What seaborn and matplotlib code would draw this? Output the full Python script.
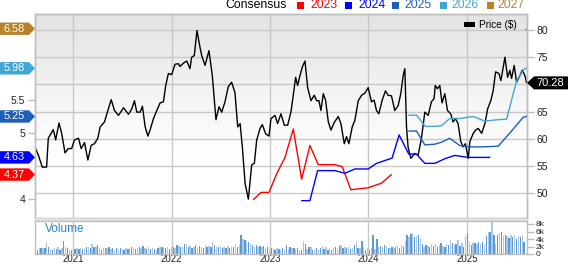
import numpy as np
import pandas as pd
import matplotlib
matplotlib.use("Agg")
import matplotlib.pyplot as plt
import seaborn as sns
from matplotlib.patches import Polygon, Rectangle
from matplotlib.colors import LinearSegmentedColormap
import matplotlib.transforms as mtrans

# ---------------- data ----------------
price_t = [2020.614, 2020.648, 2020.688, 2020.732, 2020.749, 2020.800, 2020.824, 2020.858, 2020.885, 2020.919,
           2020.952, 2020.986, 2021.013, 2021.054, 2021.081, 2021.115, 2021.149, 2021.183, 2021.216, 2021.250,
           2021.274, 2021.318, 2021.352, 2021.386, 2021.419, 2021.460, 2021.511, 2021.562, 2021.595, 2021.622,
           2021.646, 2021.680, 2021.703, 2021.731, 2021.758, 2021.781, 2021.815, 2021.849, 2021.883, 2021.917,
           2021.940, 2021.967, 2022.001, 2022.035, 2022.069, 2022.086, 2022.120, 2022.154, 2022.187, 2022.204,
           2022.231, 2022.258, 2022.289, 2022.306, 2022.340, 2022.380, 2022.414, 2022.451, 2022.482, 2022.509,
           2022.543, 2022.576, 2022.610, 2022.644,
           2022.672, 2022.696, 2022.719, 2022.747, 2022.780, 2022.814, 2022.841, 2022.865, 2022.899, 2022.922,
           2022.956, 2022.990, 2023.010, 2023.051, 2023.078, 2023.112, 2023.146, 2023.180, 2023.214, 2023.237,
           2023.261, 2023.281, 2023.305, 2023.329, 2023.356, 2023.383, 2023.417, 2023.450, 2023.474, 2023.498,
           2023.518, 2023.542, 2023.565, 2023.593, 2023.620, 2023.653,
           2023.694, 2023.721, 2023.755, 2023.778, 2023.802, 2023.836, 2023.863, 2023.897, 2023.931, 2023.965,
           2023.998, 2024.032, 2024.059, 2024.083, 2024.107, 2024.141, 2024.174, 2024.201, 2024.235, 2024.269,
           2024.303, 2024.330, 2024.354, 2024.371, 2024.388, 2024.404, 2024.432, 2024.472, 2024.506, 2024.540,
           2024.574, 2024.608, 2024.641, 2024.668,
           2024.680, 2024.702, 2024.726, 2024.749, 2024.777, 2024.804, 2024.837, 2024.861, 2024.885, 2024.912,
           2024.939, 2024.963, 2024.986, 2025.013, 2025.030, 2025.064, 2025.088, 2025.115, 2025.149, 2025.183,
           2025.210, 2025.244, 2025.267, 2025.291, 2025.325, 2025.345, 2025.386, 2025.413, 2025.436, 2025.453,
           2025.480, 2025.504, 2025.538, 2025.562, 2025.589, 2025.605]
price_v = [58.5, 57.0, 54.8, 54.8, 60.1, 61.7, 59.8, 62.9, 61.0, 57.4,
           58.2, 58.2, 59.8, 60.1, 58.2, 59.3, 56.1, 58.8, 59.1, 60.1,
           62.2, 63.1, 65.2, 67.2, 65.2, 64.3, 65.7, 64.5, 65.5, 67.0,
           64.9, 64.9, 66.0, 62.2, 60.5, 61.6, 63.7, 65.2, 66.6, 66.8,
           69.8, 72.0, 71.8, 73.7, 73.8, 73.3, 73.9, 74.3, 72.9, 75.0,
           75.3, 79.9, 76.8, 75.3, 73.5, 76.2, 71.6, 63.5, 65.9, 64.9,
           66.8, 69.6, 70.4, 68.5,
           62.2, 62.8, 58.5, 51.8, 48.9, 55.2, 55.5, 59.8, 61.9, 62.6,
           60.9, 60.5, 63.7, 64.3, 62.8, 64.6, 62.5, 62.5, 65.0, 68.0,
           71.3, 69.8, 71.6, 73.2, 74.3, 69.4, 67.0, 68.0, 67.0, 67.0,
           65.2, 68.3, 67.1, 63.1, 61.6, 63.0,
           64.1, 62.8, 59.1, 60.4, 59.1, 62.2, 63.4, 67.0, 68.0, 68.4,
           69.4, 66.8, 67.1, 65.2, 64.6, 67.1, 68.8, 68.0, 67.9, 65.2,
           66.1, 68.3, 71.6, 72.9, 62.2, 58.5, 56.4, 57.3, 57.0, 60.1,
           64.9, 64.3, 66.8, 67.4,
           69.8, 69.2, 69.8, 66.6, 68.3, 65.2, 64.6, 63.1, 63.7, 62.8,
           59.5, 58.5, 59.1, 56.4, 59.5, 61.0, 61.6, 61.9, 61.0, 62.8,
           65.5, 67.1, 68.9, 72.3, 72.0, 70.7, 75.0, 71.3, 72.6, 71.1,
           73.5, 70.4, 71.6, 72.6, 71.6, 70.3]
last_price = 70.28

c2023_t = [2022.831, 2022.909, 2022.990, 2023.068, 2023.153, 2023.237, 2023.322, 2023.406, 2023.491,
           2023.660, 2023.734, 2023.822, 2023.998, 2024.134, 2024.235]
c2023_v = [3.99, 4.10, 4.10, 4.38, 4.63, 5.06, 4.30, 4.81, 4.52, 4.52, 4.49, 4.14, 4.17, 4.24, 4.37]
c2024_t = [2023.322, 2023.406, 2023.484, 2023.660, 2023.762, 2023.863, 2023.998, 2024.083, 2024.242,
           2024.313, 2024.411, 2024.489, 2024.574, 2024.675, 2024.777, 2024.878, 2025.013, 2025.233]
c2024_v = [3.975, 3.975, 4.43, 4.43, 4.39, 4.455, 4.455, 4.54, 4.62, 4.97, 4.68, 4.68, 4.54, 4.54,
           4.61, 4.66, 4.63, 4.63]
c2025_t = [2024.411, 2024.489, 2024.574, 2024.675, 2024.743, 2024.827, 2024.929, 2025.047, 2025.166,
           2025.318, 2025.453, 2025.572, 2025.605]
c2025_v = [5.03, 5.03, 4.82, 4.83, 4.86, 4.92, 4.81, 4.79, 4.79, 4.80, 5.03, 5.24, 5.25]
c2026_t = [2024.411, 2024.489, 2024.580, 2024.675, 2024.743, 2024.827, 2024.929, 2025.064, 2025.183,
           2025.301, 2025.403, 2025.504, 2025.582, 2025.605]
c2026_v = [5.27, 5.27, 5.10, 5.10, 5.11, 5.22, 5.22, 5.25, 5.18, 5.20, 5.21, 5.79, 5.97, 5.98]
c2027_t = [2025.585, 2025.605]
c2027_v = [6.58, 6.58]

series_names = ["2023", "2024", "2025", "2026", "2027"]
series_colors = ["#ff0000", "#0000ff", "#1f5fb8", "#3fa7d6", "#b8812c"]
consensus_last = [4.37, 4.63, 5.25, 5.98, 6.58]

vol_2020 = [1.4, 1.2, 1.6, 1.5, 1.7, 1.5, 3.2, 1.8, 1.3, 1.0, 1.5, 1.4, 1.8, 1.2, 1.6, 3.4, 2.0, 1.5, 1.0, 1.2]
vol_2021 = [1.5, 1.3, 1.6, 1.4, 1.7, 1.3, 1.5, 1.8, 2.0, 1.6, 2.7, 2.0, 1.8, 2.5, 1.6, 1.2, 1.5, 1.7, 1.6, 1.8,
            1.4, 1.5, 1.2, 1.6, 1.3, 1.7, 1.4, 1.2, 1.5, 1.3, 1.6, 1.8, 1.5, 1.3, 1.6, 1.9, 1.7, 2.2, 1.5, 1.4,
            1.8, 1.3, 1.6, 1.4, 1.2, 1.5, 1.8, 2.0, 1.6, 1.7, 2.0, 1.4]
vol_2022 = [1.8, 2.0, 1.7, 2.3, 2.2, 1.9, 2.0, 2.7, 2.6, 1.8, 2.1, 1.6, 1.9, 2.3, 1.8, 2.2, 2.0, 1.7, 2.4, 1.9,
            2.2, 2.0, 3.2, 2.4, 2.0, 1.8, 2.1, 1.6, 1.9, 1.7, 2.2, 1.5, 2.0, 1.8, 2.6, 1.9, 2.3, 5.0, 3.9, 3.8,
            3.4, 3.2, 2.8, 2.5, 1.9, 2.3, 2.0, 2.2, 1.8, 2.1, 1.6, 2.0]
vol_2023 = [1.3, 1.6, 1.4, 1.2, 1.5, 1.3, 1.1, 1.6, 1.4, 2.5, 1.3, 1.8, 1.6, 1.5, 1.3, 1.6, 1.2, 1.1, 3.5, 2.7,
            1.4, 1.8, 1.9, 1.2, 1.0, 1.5, 1.3, 1.7, 2.2, 1.4, 1.8, 1.2, 1.5, 1.1, 1.6, 1.9, 1.4, 2.1, 2.3, 1.6,
            1.8, 1.5, 2.0, 1.3, 1.7, 2.4, 3.4, 1.6, 1.5, 3.4, 1.8, 1.2]
vol_2024 = [1.6, 1.2, 1.5, 5.0, 1.4, 4.1, 2.0, 2.2, 1.9, 2.3, 2.1, 1.7, 1.5, 1.8, 1.6, 1.9, 2.2, 1.7, 2.3, 2.0,
            3.6, 5.0, 4.6, 5.3, 5.6, 4.5, 4.9, 5.0, 4.3, 2.6, 2.0, 2.4, 2.2, 1.9, 2.6, 2.1, 2.8, 2.0, 2.4, 2.9,
            2.2, 1.8, 2.6, 2.3, 3.8, 3.0, 2.4, 2.7, 3.8, 2.1, 2.9, 1.8]
vol_2025 = [4.9, 5.6, 3.2, 2.5, 2.9, 3.0, 2.6, 3.1, 2.8, 3.2, 2.4, 4.7, 6.0, 5.8, 8.7, 5.0, 2.8, 5.2, 5.5, 6.0,
            4.8, 5.1, 4.9, 4.4, 5.0, 4.6, 5.2, 4.0, 4.9, 4.6, 5.0, 3.2]
volume = vol_2020 + vol_2021 + vol_2022 + vol_2023 + vol_2024 + vol_2025

years = [2021, 2022, 2023, 2024, 2025]
price_ticks = [50, 55, 60, 65, 70, 75, 80]
eps_ticks = [4, 5, 5.5]
vol_ticks = [0, 2, 4, 6, 8]
vol_labels = ["0", "2k", "4k", "6k", "8k"]


def to_date(v):
    y = int(v)
    return pd.Timestamp(year=y, month=1, day=1) + pd.Timedelta(days=(v - y) * 365.25)


# ---------------- figure ----------------
sns.set_style("white")
plt.rcParams['font.family'] = ['Liberation Sans', 'DejaVu Sans']

W, H = 568, 264
fig = plt.figure(figsize=(W / 100, H / 100), dpi=100)


def rect(x0, y0, x1, y1):
    return [x0 / W, 1 - y1 / H, (x1 - x0) / W, (y1 - y0) / H]


GRID = "#c8c8c8"
SPINE = "#bdbdbd"

ax_bg = fig.add_axes(rect(35, 14, 527, 218), zorder=-1)
cmap = LinearSegmentedColormap.from_list("g", [(0, "#e3e3e3"), (0.45, "#f6f6f6"), (0.7, "#ffffff"), (1, "#ffffff")])
ax_bg.imshow(np.linspace(0, 1, 256).reshape(-1, 1), cmap=cmap, aspect="auto", extent=(0, 1, 0, 1))
ax_bg.axis("off")

ax_p = fig.add_axes(rect(35, 14, 527, 218))
ax_p.patch.set_visible(False)
ax_e = ax_p.twinx()
ax_v = fig.add_axes(rect(35, 221, 527, 254))

xmin, xmax = to_date(2020.614), to_date(2025.61)

# price line
df_p = pd.DataFrame({"date": [to_date(t) for t in price_t], "price": price_v})
sns.lineplot(data=df_p, x="date", y="price", ax=ax_p, color="black", lw=1.0, estimator=None, legend=False)

# consensus lines
for name, col, tt, vv in zip(series_names, series_colors,
                             [c2023_t, c2024_t, c2025_t, c2026_t, c2027_t],
                             [c2023_v, c2024_v, c2025_v, c2026_v, c2027_v]):
    d = pd.DataFrame({"date": [to_date(t) for t in tt], "eps": vv})
    sns.lineplot(data=d, x="date", y="eps", ax=ax_e, color=col, lw=1.0, estimator=None, legend=False)

# volume bars
vol_dates = pd.date_range("2020-08-14", periods=len(volume), freq="7D")
bar_colors = ["#a9c8e8" if i % 2 == 0 else "#5b9bd5" for i in range(len(volume))]
ax_v.bar(vol_dates, volume, width=5, color=bar_colors, linewidth=0)

# limits
for a in (ax_p, ax_e, ax_v):
    a.set_xlim(xmin, xmax)
ax_p.set_ylim(45.44, 82.94)
ax_e.set_ylim(3.712, 6.803)
ax_v.set_ylim(0, 8.8)

year_ticks = [pd.Timestamp(year=y, month=1, day=1) for y in years]
for a in (ax_p, ax_e, ax_v):
    a.set_xticks(year_ticks)
    a.set_xlabel("")
    a.set_ylabel("")
ax_v.set_xticklabels([str(y) for y in years])
ax_p.tick_params(axis="x", labelbottom=False, length=0)
ax_e.tick_params(axis="x", labelbottom=False, length=0)
ax_v.tick_params(axis="x", length=0, pad=0.3, labelsize=7, colors="#222222")

# price axis (right); the 70 label sits under the last-price box
ax_p.yaxis.tick_right()
ax_p.set_yticks(price_ticks)
ax_p.set_yticklabels(["" if v == 70 else str(v) for v in price_ticks])
ax_p.tick_params(axis="y", right=True, left=False, labelright=True, labelleft=False,
                 length=5, width=1, color=SPINE, labelsize=7.5, pad=2, labelcolor="#222222")
ax_p.grid(True, color=GRID, lw=1)

# eps axis (left)
ax_e.yaxis.tick_left()
ax_e.set_yticks(eps_ticks)
ax_e.set_yticklabels(["4", "5", "5.5"])
ax_e.tick_params(axis="y", left=True, right=False, labelleft=True, labelright=False,
                 length=5, width=1, color=SPINE, labelsize=7.5, pad=2, labelcolor="#222222")
ax_e.grid(False)

# volume axis
ax_v.yaxis.tick_right()
ax_v.set_yticks(vol_ticks)
ax_v.set_yticklabels(vol_labels)
ax_v.tick_params(axis="y", right=True, left=False, labelright=True, labelleft=False,
                 length=5, width=1, color=SPINE, labelsize=6, pad=1, labelcolor="#222222")
ax_v.grid(True, axis="x", color=GRID, lw=1)
ax_v.grid(False, axis="y")
ax_v.set_facecolor("white")

for a in (ax_p, ax_e, ax_v):
    for s in a.spines.values():
        s.set_color(SPINE)
        s.set_linewidth(1)

# separator band
fig.add_artist(Rectangle((35 / W, 1 - 221 / H), 492 / W, 3 / H, transform=fig.transFigure,
                         facecolor="#dddddd", edgecolor="none"))

ax_v.text(45 / W, 1 - 229 / H, "Volume", transform=fig.transFigure, ha="left", va="center",
          fontsize=8.5, color="#2e7fc4")

# ---------- left consensus value boxes ----------
ident = mtrans.IdentityTransform()
for col, val in zip(series_colors, consensus_last):
    yd = ax_e.transData.transform((0, val))[1]
    h = 6.2
    poly = Polygon([(0, yd - h), (29, yd - h), (35, yd), (29, yd + h), (0, yd + h)], closed=True,
                   transform=ident, facecolor=col, edgecolor="none", zorder=5)
    fig.add_artist(poly)
    fig.text(4 / W, yd / H, f"{val:.2f}", color="white", fontsize=7.8, ha="left", va="center", zorder=6)

# ---------- right last price box ----------
yp = ax_p.transData.transform((0, last_price))[1]
hp = 6.5
poly = Polygon([(527, yp), (534, yp - hp), (568, yp - hp), (568, yp + hp), (534, yp + hp)], closed=True,
               transform=ident, facecolor="black", edgecolor="none", zorder=5)
fig.add_artist(poly)
fig.text(550 / W, yp / H, f"{last_price:.2f}", color="white", fontsize=8, ha="center", va="center", zorder=6)

# ---------- price legend ----------
fig.add_artist(Rectangle((464 / W, 1 - 27 / H), 11 / W, 4.5 / H, transform=fig.transFigure,
                         facecolor="black", edgecolor="none"))
fig.text(479 / W, 1 - 25.5 / H, "Price ($)", fontsize=7.2, ha="left", va="center", color="black")

# ---------- top legend ----------
fig.text(225 / W, 1 - 5 / H, "Consensus", fontsize=8.8, ha="left", va="center", color="black")
sq_x = [297, 345, 392, 440, 487]
tx_x = [310, 358, 404, 451, 497]
for name, col, sx, tx in zip(series_names, series_colors, sq_x, tx_x):
    fig.add_artist(Rectangle((sx / W, 1 - 9 / H), 7 / W, 7 / H, transform=fig.transFigure,
                             facecolor=col, edgecolor="none"))
    fig.text(tx / W, 1 - 5 / H, name, fontsize=8.8, ha="left", va="center", color=col)

fig.savefig("out.png", dpi=100)
